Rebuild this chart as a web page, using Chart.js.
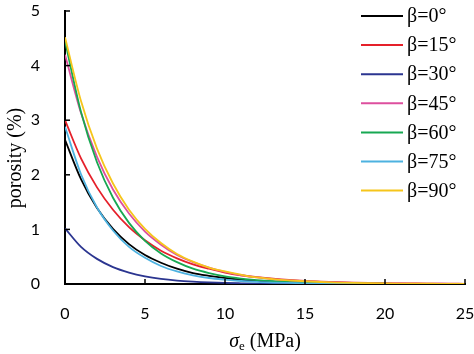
<!DOCTYPE html>
<html>
<head>
<meta charset="utf-8">
<script src="https://cdn.jsdelivr.net/npm/chart.js"></script>
<style>
  body { margin: 0; background: #fff; }
  #porosityChart { display: block; }
</style>
</head>
<body>
<canvas id="porosityChart" width="474" height="354"></canvas>

<script>
// effective stress (MPa)
const sigma = [0, 1, 2, 3, 4, 5, 6, 7, 8, 9, 10, 11, 12, 13, 14, 15, 16, 17, 18, 19, 20, 21, 22, 23, 24, 25];

// porosity (%)
const beta0  = [2.64, 1.92, 1.39, 1.01, 0.73, 0.53, 0.39, 0.28, 0.20, 0.15, 0.11, 0.078, 0.057, 0.041, 0.030, 0.022, 0.016, 0.011, 0.008, 0.006, 0.004, 0.003, 0.002, 0.002, 0.001, 0.001];
const beta15 = [3.00, 2.30, 1.77, 1.36, 1.04, 0.80, 0.61, 0.47, 0.36, 0.28, 0.21, 0.16, 0.125, 0.096, 0.073, 0.056, 0.043, 0.033, 0.025, 0.019, 0.015, 0.012, 0.009, 0.007, 0.005, 0.004];
const beta30 = [1.02, 0.68, 0.46, 0.31, 0.21, 0.14, 0.093, 0.062, 0.042, 0.028, 0.019, 0.013, 0.008, 0.006, 0.004, 0.003, 0.002, 0.001, 0.001, 0.001, 0, 0, 0, 0, 0, 0];
const beta45 = [4.20, 3.13, 2.33, 1.73, 1.29, 0.96, 0.72, 0.53, 0.40, 0.30, 0.22, 0.16, 0.12, 0.091, 0.068, 0.050, 0.037, 0.028, 0.021, 0.015, 0.011, 0.009, 0.006, 0.005, 0.004, 0.003];
const beta60 = [4.45, 3.15, 2.23, 1.58, 1.12, 0.79, 0.56, 0.40, 0.28, 0.20, 0.14, 0.10, 0.071, 0.050, 0.036, 0.025, 0.018, 0.013, 0.009, 0.006, 0.005, 0.003, 0.002, 0.002, 0.001, 0.001];
const beta75 = [2.88, 2.01, 1.40, 0.98, 0.68, 0.48, 0.33, 0.23, 0.16, 0.11, 0.079, 0.055, 0.038, 0.027, 0.019, 0.013, 0.009, 0.006, 0.005, 0.003, 0.002, 0.002, 0.001, 0.001, 0, 0];
const beta90 = [4.52, 3.35, 2.48, 1.84, 1.36, 1.01, 0.75, 0.55, 0.41, 0.30, 0.23, 0.17, 0.12, 0.091, 0.068, 0.050, 0.037, 0.027, 0.020, 0.015, 0.011, 0.008, 0.006, 0.005, 0.003, 0.003];

const seriesLabels = ['β=0°', 'β=15°', 'β=30°', 'β=45°', 'β=60°', 'β=75°', 'β=90°'];
const seriesColors = ['#000000', '#e5202a', '#2b3590', '#dd4f9e', '#17a852', '#4db2e0', '#f6c51b'];
const seriesData = [beta0, beta15, beta30, beta45, beta60, beta75, beta90];

const xTicks = [0, 5, 10, 15, 20, 25];
const yTicks = [0, 1, 2, 3, 4, 5];

const serif = "'Liberation Serif', 'Times New Roman', serif";

// tick marks (inward), axis titles and the legend box
const extras = {
  id: 'extras',
  afterDraw(chart) {
    const ctx = chart.ctx;
    const xs = chart.scales.x;
    const ys = chart.scales.y;
    const area = chart.chartArea;
    ctx.save();

    ctx.strokeStyle = '#000';
    ctx.lineWidth = 1.5;
    yTicks.forEach(function(v) {
      const p = ys.getPixelForValue(v);
      ctx.beginPath();
      ctx.moveTo(area.left, p);
      ctx.lineTo(area.left + 5, p);
      ctx.stroke();
    });
    xTicks.forEach(function(v) {
      const p = xs.getPixelForValue(v);
      ctx.beginPath();
      ctx.moveTo(p, area.bottom);
      ctx.lineTo(p, area.bottom - 5);
      ctx.stroke();
    });

    ctx.fillStyle = '#000';

    // y title
    ctx.save();
    ctx.translate(16, 158);
    ctx.rotate(-Math.PI / 2);
    ctx.font = '20px ' + serif;
    ctx.textAlign = 'center';
    ctx.textBaseline = 'middle';
    ctx.fillText('porosity (%)', 0, 0);
    ctx.restore();

    // x title: sigma with subscript e
    ctx.textBaseline = 'alphabetic';
    ctx.textAlign = 'left';
    const base = 347;
    ctx.font = 'italic 20px ' + serif;
    const w1 = ctx.measureText('σ').width;
    ctx.font = '13px ' + serif;
    const w2 = ctx.measureText('e').width;
    ctx.font = '20px ' + serif;
    const w3 = ctx.measureText(' (MPa)').width;
    let x0 = 265 - (w1 + w2 + w3) / 2;
    ctx.font = 'italic 20px ' + serif;
    ctx.fillText('σ', x0, base);
    x0 += w1;
    ctx.font = '13px ' + serif;
    ctx.fillText('e', x0, base + 3);
    x0 += w2;
    ctx.font = '20px ' + serif;
    ctx.fillText(' (MPa)', x0, base);

    // legend
    ctx.font = '20px ' + serif;
    ctx.textBaseline = 'middle';
    chart.data.datasets.forEach(function(ds, i) {
      const y = 16 + i * 29.1;
      ctx.strokeStyle = ds.borderColor;
      ctx.lineWidth = 2;
      ctx.beginPath();
      ctx.moveTo(361, y);
      ctx.lineTo(403, y);
      ctx.stroke();
      ctx.fillStyle = '#000';
      ctx.fillText(ds.label, 407, y + 1);
    });

    ctx.restore();
  }
};

const datasets = seriesLabels.map(function(label, i) {
  return {
    label: label,
    data: sigma.map(function(s, j) { return { x: s, y: seriesData[i][j] }; }),
    borderColor: seriesColors[i],
    backgroundColor: seriesColors[i],
    borderWidth: 1.8,
    pointRadius: 0,
    cubicInterpolationMode: 'monotone',
    order: seriesLabels.length - i
  };
});

new Chart(document.getElementById('porosityChart'), {
  type: 'line',
  data: { datasets: datasets },
  options: {
    responsive: false,
    animation: false,
    devicePixelRatio: 1,
    layout: { padding: { top: 11, right: 9, bottom: 0, left: 0 } },
    plugins: {
      legend: { display: false },
      tooltip: { enabled: false }
    },
    scales: {
      x: {
        type: 'linear',
        min: 0,
        max: 25,
        grid: { display: false },
        border: { display: true, color: '#000', width: 2 },
        ticks: {
          stepSize: 5,
          padding: 12,
          color: '#000',
          font: { family: 'Lato', size: 16 }
        },
        afterFit: function(s) {
          s.height = 70;
          s.paddingLeft = 0;
          s.paddingRight = 0;
        }
      },
      y: {
        type: 'linear',
        min: 0,
        max: 5,
        grid: { display: false },
        border: { display: true, color: '#000', width: 2 },
        ticks: {
          stepSize: 1,
          padding: 17,
          color: '#000',
          font: { family: 'Lato', size: 16 }
        },
        afterFit: function(s) {
          s.width = 65;
          s.paddingTop = 0;
          s.paddingBottom = 0;
        }
      }
    }
  },
  plugins: [extras]
});
</script>
</body>
</html>
